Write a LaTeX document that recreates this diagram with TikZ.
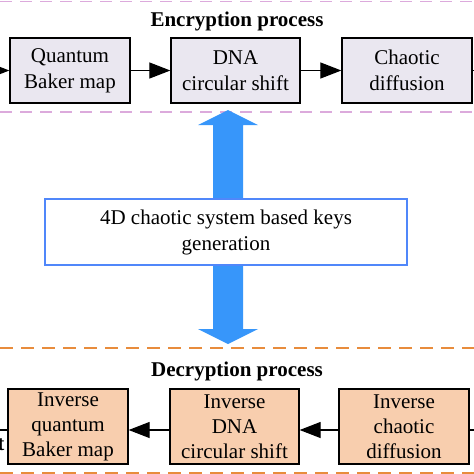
\documentclass[tikz,border=0pt]{standalone}
\usepackage{fontspec}
\setmainfont{Liberation Serif}
\usetikzlibrary{arrows.meta}
\definecolor{encfill}{RGB}{234,231,240}
\definecolor{decfill}{RGB}{248,206,174}
\definecolor{pinkdash}{RGB}{220,170,220}
\definecolor{orangedash}{RGB}{232,140,60}
\definecolor{keyblue}{RGB}{55,150,250}
\definecolor{keyborder}{RGB}{80,135,250}
\tikzset{
  txt/.style={font=\fontsize{21}{26}\selectfont, align=center},
  encbox/.style={txt, draw=black, line width=1.3pt, fill=encfill, minimum height=65pt, inner sep=0pt},
  decbox/.style={txt, font=\fontsize{21}{25}\selectfont, draw=black, line width=1.3pt, fill=decfill, minimum height=75pt, inner sep=0pt},
  flow/.style={draw=black, line width=1.2pt, -{Triangle[length=21pt,width=16pt]}},
  plain/.style={draw=black, line width=1.2pt},
  title/.style={font=\fontsize{21}{25}\selectfont\bfseries, anchor=base},
}
\begin{document}
\begin{tikzpicture}[x=1pt,y=-1pt]
\useasboundingbox (0,0) rectangle (474,474);
% dashed separators
\draw[pinkdash, line width=1.5pt, dash pattern=on 12pt off 8pt] (0,1.5) -- (474,1.5);
\draw[pinkdash, line width=1.5pt, dash pattern=on 12pt off 8pt] (0,112) -- (474,112);
\draw[orangedash, line width=2pt, dash pattern=on 13pt off 8pt] (0,348) -- (474,348);
\draw[orangedash, line width=2pt, dash pattern=on 13pt off 8pt] (0,473) -- (474,473);
% titles
\node[title] (enc) at (237,26) {Encryption process};
\node[title] (dec) at (237,376) {Decryption process};
% encryption boxes
\node[encbox, minimum width=120pt] (q) at (70,70.5) {Quantum\\Baker map};
\node[encbox, minimum width=129pt] (d) at (235.5,70.5) {DNA\\circular shift};
\node[encbox, minimum width=130pt] (c) at (407,70.5) {Chaotic\\diffusion};
\coordinate (inL) at (0,70.5);
\coordinate (outR) at (474,70.5);
\draw[flow] (inL) -- (q);
\draw[flow] (q) -- (d);
\draw[flow] (d) -- (c);
\draw[plain] (c) -- (outR);
% blue double arrow
\fill[keyblue] (228,110) -- (258,125) -- (243,125) -- (243,329) -- (258,329) -- (228,344)
  -- (198,329) -- (213,329) -- (213,125) -- (198,125) -- cycle;
% key box
\node[txt, draw=keyborder, line width=1.2pt, fill=white, minimum width=362pt, minimum height=66pt, inner sep=0pt] (key) at (226,232) {4D chaotic system based keys\\generation};
% decryption boxes
\node[decbox, minimum width=120pt] (iq) at (68,426.5) {Inverse\\quantum\\Baker map};
\node[decbox, minimum width=129pt] (id) at (234.5,426.5) {Inverse\\DNA\\circular shift};
\node[decbox, minimum width=130pt] (ic) at (404,426.5) {Inverse\\chaotic\\diffusion};
\coordinate (inR) at (474,430);
\coordinate (outL) at (0,430);
\draw[plain] (inR) -- (inR -| ic.east);
\draw[flow] (ic.west |- inR) -- (id.east |- inR);
\draw[flow] (id.west |- inR) -- (iq.east |- inR);
\draw[plain] (iq.west |- inR) -- (outL);
\node[font=\fontsize{21}{25}\selectfont\bfseries, anchor=base east, inner sep=0pt] (outt) at (4.5,450) {t};
\end{tikzpicture}
\end{document}
